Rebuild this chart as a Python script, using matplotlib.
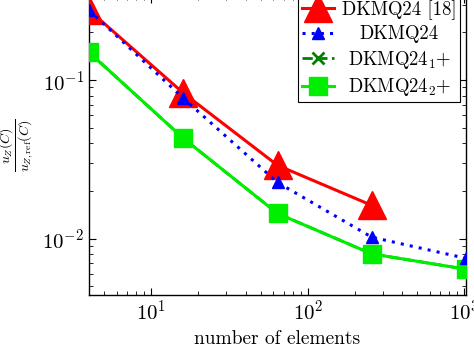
import numpy as np
import matplotlib.pyplot as plt

plt.rcParams['font.family'] = ['cmr10']
plt.rcParams['mathtext.fontset'] = 'cm'
plt.rcParams['axes.formatter.use_mathtext'] = True

# data
n_ref = [4, 16, 64, 256]
ratio_ref = [0.277, 0.083, 0.029, 0.0162]

n_all = [4, 16, 64, 256, 1024]
ratio_dkmq = [0.277, 0.077, 0.0226, 0.0102, 0.0075]
ratio_p1 = [0.150, 0.043, 0.0144, 0.0080, 0.0064]
ratio_p2 = [0.150, 0.043, 0.0144, 0.0080, 0.0064]

labels = ["DKMQ24 [18]", "DKMQ24", r"DKMQ24$_1$+", r"DKMQ24$_2$+"]

fig = plt.figure(figsize=(4.74, 3.49), dpi=100)
ax = fig.add_axes([89/474, 54/349, 377/474, 299/349])

ax.plot(n_ref, ratio_ref, color='red', lw=2.2, marker='^', ms=20,
        label=labels[0], zorder=3)
ax.plot(n_all, ratio_dkmq, color='blue', lw=2.2, ls=(0, (1, 2)),
        marker='^', ms=9, label=labels[1], zorder=4)
ax.plot(n_all, ratio_p1, color='green', lw=2, ls='--', marker='x', ms=8,
        mew=2, label=labels[2], zorder=2)
ax.plot(n_all, ratio_p2, color='#00ee00', lw=2.2, marker='s', ms=13,
        label=labels[3], zorder=3)

ax.set_xscale('log')
ax.set_yscale('log')
ax.set_xlim(4, 1024)
ax.set_ylim(0.0044, 0.34)

ax.tick_params(which='both', direction='in', top=True, right=True,
               labelsize=15)
ax.tick_params(which='major', length=5)
ax.tick_params(which='minor', length=3)

ax.set_xlabel("number of elements", fontsize=14)
ax.set_ylabel(r"$\dfrac{u_Z(C)}{u_{Z,\mathrm{ref}}(C)}$", fontsize=10)
ax.yaxis.set_label_coords(-0.14, 0.5)

for s in ax.spines.values():
    s.set_linewidth(1.0)

leg = ax.legend(loc='upper right', bbox_to_anchor=(0.985, 1.0),
                fontsize=13.5, frameon=True, fancybox=False,
                edgecolor='black', framealpha=1, borderaxespad=0.0,
                handlelength=1.75, handletextpad=0.4, labelspacing=0.3,
                borderpad=0.2)
leg.get_frame().set_linewidth(0.8)

# centre the legend entries like pgfplots does
fig.canvas.draw()
r = fig.canvas.get_renderer()
widths = [t.get_window_extent(r).width for t in leg.get_texts()]
wmax = max(widths)
for t, w in zip(leg.get_texts(), widths):
    t.set_position(((wmax - w) / 2, 0))

fig.savefig("out.png", dpi=100)
